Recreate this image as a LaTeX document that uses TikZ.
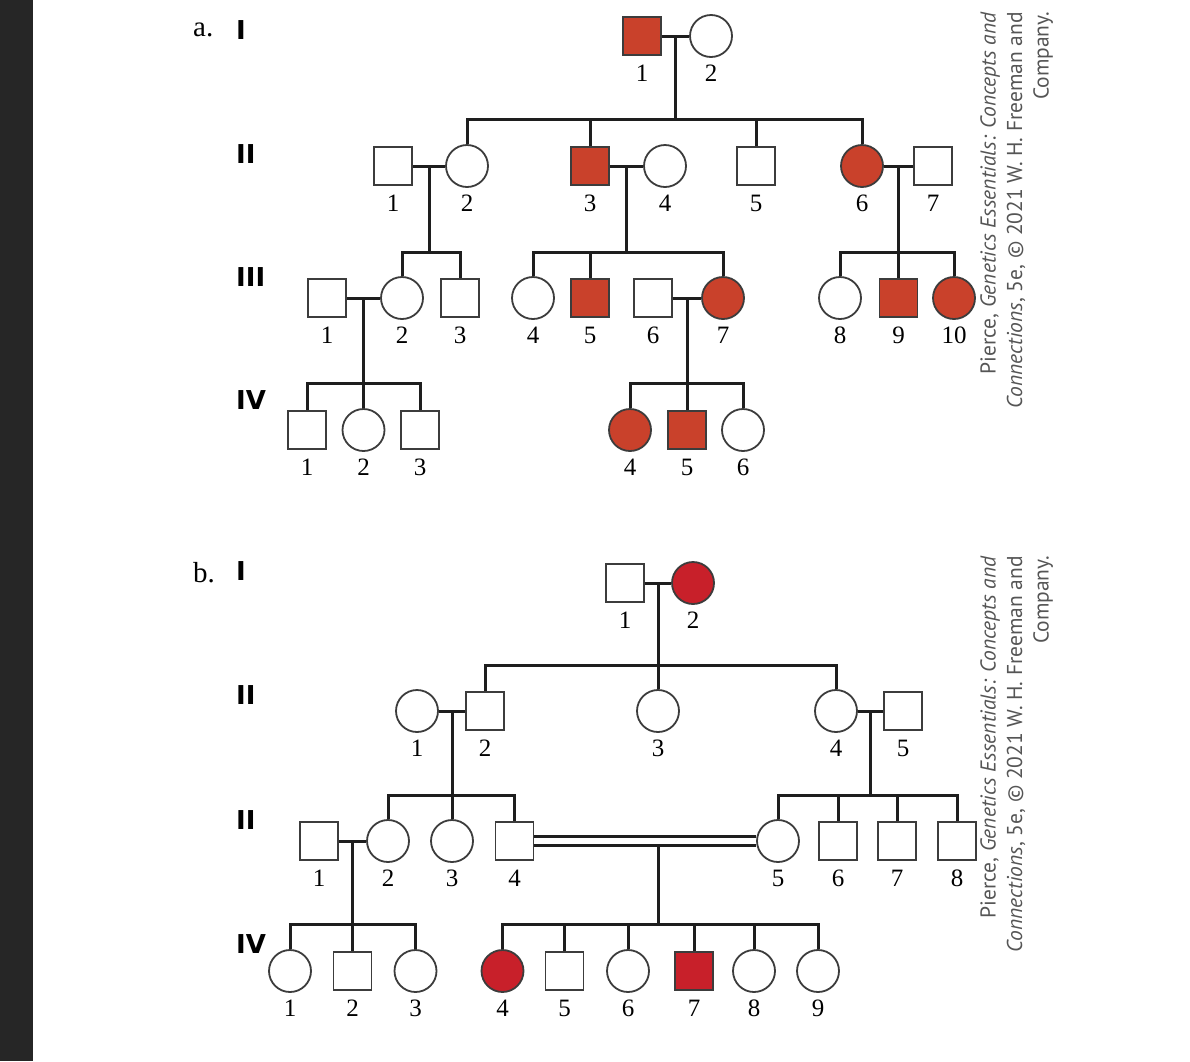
\documentclass[tikz,border=0pt]{standalone}
\usepackage{fontspec}
\setmainfont{Liberation Serif}
\newfontfamily\genfont{DejaVu Sans}
\newfontfamily\creditfont{PT Sans}
\usetikzlibrary{calc}

\definecolor{affa}{RGB}{201,65,43}
\definecolor{affb}{RGB}{200,32,42}
\definecolor{outline}{RGB}{60,60,60}
\definecolor{kinline}{RGB}{30,30,30}
\definecolor{creditgray}{RGB}{85,85,85}
\definecolor{sidebar}{RGB}{38,38,38}

\tikzset{
  male/.style={rectangle, draw=outline, line width=1.8pt, fill=white, minimum size=38pt, inner sep=0pt},
  female/.style={circle, draw=outline, line width=1.8pt, fill=white, minimum size=42pt, inner sep=0pt},
  affA/.style={fill=affa},
  affB/.style={fill=affb},
  every label/.style={font=\fontsize{25}{25}\selectfont, inner sep=0pt},
  label distance=7pt,
  sq/.style={label distance=9pt},
  gen/.style={font=\genfont\bfseries\fontsize{26}{26}\selectfont, inner sep=0pt, anchor=west},
  part/.style={font=\fontsize{29}{29}\selectfont, inner sep=0pt, anchor=west},
  kin/.style={draw=kinline, line width=3pt},
  credit/.style={font=\creditfont\fontsize{21.5}{26.5}\selectfont, text=creditgray, inner sep=0pt, rotate=90, anchor=north east, align=right}
}

\begin{document}
\begin{tikzpicture}[x=1pt, y=-1pt]
\useasboundingbox (0,0) rectangle (1190,1061);
\fill[sidebar] (0,0) rectangle (33,1061);

% part a
\node[part] (pa) at (193,30) {a.};
\node[gen] (gaI) at (236,30) {I};
\node[gen] (gaII) at (236,154) {II};
\node[gen] (gaIII) at (236,277) {III};
\node[gen] (gaIV) at (236,400) {IV};

\node[male, affA, label={[sq]below:1}] (aI1) at (642,36) {};
\node[female, label=below:2] (aI2) at (711,36) {};

\node[male, label={[sq]below:1}] (aII1) at (393,166) {};
\node[female, label=below:2] (aII2) at (467,166) {};
\node[male, affA, label={[sq]below:3}] (aII3) at (590,166) {};
\node[female, label=below:4] (aII4) at (665,166) {};
\node[male, label={[sq]below:5}] (aII5) at (756,166) {};
\node[female, affA, label=below:6] (aII6) at (862,166) {};
\node[male, label={[sq]below:7}] (aII7) at (933,166) {};

\node[male, label={[sq]below:1}] (aIII1) at (327,298) {};
\node[female, label=below:2] (aIII2) at (402,298) {};
\node[male, label={[sq]below:3}] (aIII3) at (460,298) {};
\node[female, label=below:4] (aIII4) at (533,298) {};
\node[male, affA, label={[sq]below:5}] (aIII5) at (590,298) {};
\node[male, label={[sq]below:6}] (aIII6) at (653,298) {};
\node[female, affA, label=below:7] (aIII7) at (723,298) {};
\node[female, label=below:8] (aIII8) at (840,298) {};
\node[male, affA, label={[sq]below:9}] (aIII9) at (898.5,298) {};
\node[female, affA, label=below:10] (aIII10) at (954,298) {};

\node[male, label={[sq]below:1}] (aIV1) at (307,430) {};
\node[female, label=below:2] (aIV2) at (363.5,430) {};
\node[male, label={[sq]below:3}] (aIV3) at (420,430) {};
\node[female, affA, label=below:4] (aIV4) at (630,430) {};
\node[male, affA, label={[sq]below:5}] (aIV5) at (687,430) {};
\node[female, label=below:6] (aIV6) at (743,430) {};

\coordinate (maI) at ($(aI1.east)!0.5!(aI2.west)$);
\coordinate (saI) at (maI |- 0,119);
\coordinate (maIIa) at ($(aII1.east)!0.5!(aII2.west)$);
\coordinate (saIIa) at (maIIa |- 0,252);
\coordinate (maIIb) at ($(aII3.east)!0.5!(aII4.west)$);
\coordinate (saIIb) at (maIIb |- 0,252);
\coordinate (maIIc) at ($(aII6.east)!0.5!(aII7.west)$);
\coordinate (saIIc) at (maIIc |- 0,252);
\coordinate (maIIIa) at ($(aIII1.east)!0.5!(aIII2.west)$);
\coordinate (saIIIa) at (maIIIa |- 0,383);
\coordinate (maIIIb) at ($(aIII6.east)!0.5!(aIII7.west)$);
\coordinate (saIIIb) at (maIIIb |- 0,383);

\draw[kin] (aI1.east) -- (aI2.west);
\draw[kin] (maI) -- (saI);
\draw[kin] (aII2.north) |- (saI) -| (aII6.north);
\draw[kin] (aII3.north) -- (aII3.north |- saI);
\draw[kin] (aII5.north) -- (aII5.north |- saI);

\draw[kin] (aII1.east) -- (aII2.west);
\draw[kin] (aII3.east) -- (aII4.west);
\draw[kin] (aII6.east) -- (aII7.west);
\draw[kin] (maIIa) -- (saIIa);
\draw[kin] (maIIb) -- (saIIb);
\draw[kin] (maIIc) -- (saIIc);
\draw[kin] (aIII2.north) |- (saIIa) -| (aIII3.north);
\draw[kin] (aIII4.north) |- (saIIb) -| (aIII7.north);
\draw[kin] (aIII5.north) -- (aIII5.north |- saIIb);
\draw[kin] (aIII8.north) |- (saIIc) -| (aIII10.north);
\draw[kin] (aIII9.north) -- (aIII9.north |- saIIc);

\draw[kin] (aIII1.east) -- (aIII2.west);
\draw[kin] (aIII6.east) -- (aIII7.west);
\draw[kin] (maIIIa) -- (saIIIa);
\draw[kin] (maIIIb) -- (saIIIb);
\draw[kin] (aIV1.north) |- (saIIIa) -| (aIV3.north);
\draw[kin] (aIV2.north) -- (aIV2.north |- saIIIa);
\draw[kin] (aIV4.north) |- (saIIIb) -| (aIV6.north);
\draw[kin] (aIV5.north) -- (aIV5.north |- saIIIb);

\node[credit] (credA) at (980,12) {Pierce, \textit{Genetics Essentials: Concepts and}\\\textit{Connections}, 5e, \textcopyright\ 2021 W. H. Freeman and\\Company.};

% part b
\node[part] (pb) at (193,573) {b.};
\node[gen] (gbI) at (236,571) {I};
\node[gen] (gbII) at (236,695) {II};
\node[gen] (gbIII) at (236,820) {II};
\node[gen] (gbIV) at (236,944) {IV};

\node[male, label={[sq]below:1}] (bI1) at (625,583) {};
\node[female, affB, label=below:2] (bI2) at (693,583) {};

\node[female, label=below:1] (bII1) at (417,711) {};
\node[male, label={[sq]below:2}] (bII2) at (485,711) {};
\node[female, label=below:3] (bII3) at (658,711) {};
\node[female, label=below:4] (bII4) at (836,711) {};
\node[male, label={[sq]below:5}] (bII5) at (903,711) {};

\node[male, label={[sq]below:1}] (bIII1) at (319,841) {};
\node[female, label=below:2] (bIII2) at (388,841) {};
\node[female, label=below:3] (bIII3) at (452,841) {};
\node[male, label={[sq]below:4}] (bIII4) at (514.5,841) {};
\node[female, label=below:5] (bIII5) at (778,841) {};
\node[male, label={[sq]below:6}] (bIII6) at (838,841) {};
\node[male, label={[sq]below:7}] (bIII7) at (897,841) {};
\node[male, label={[sq]below:8}] (bIII8) at (957,841) {};

\node[female, label=below:1] (bIV1) at (290,971) {};
\node[male, label={[sq]below:2}] (bIV2) at (352.5,971) {};
\node[female, label=below:3] (bIV3) at (415.5,971) {};
\node[female, affB, label=below:4] (bIV4) at (502.5,971) {};
\node[male, label={[sq]below:5}] (bIV5) at (564.5,971) {};
\node[female, label=below:6] (bIV6) at (628,971) {};
\node[male, affB, label={[sq]below:7}] (bIV7) at (694,971) {};
\node[female, label=below:8] (bIV8) at (754,971) {};
\node[female, label=below:9] (bIV9) at (818,971) {};

\coordinate (mbI) at ($(bI1.east)!0.5!(bI2.west)$);
\coordinate (sbI) at (mbI |- 0,665);
\coordinate (mbIIa) at ($(bII1.east)!0.5!(bII2.west)$);
\coordinate (sbIIa) at (mbIIa |- 0,795);
\coordinate (mbIIb) at ($(bII4.east)!0.5!(bII5.west)$);
\coordinate (sbIIb) at (mbIIb |- 0,795);
\coordinate (mbIIIa) at ($(bIII1.east)!0.5!(bIII2.west)$);
\coordinate (sbIIIa) at (mbIIIa |- 0,924);
\coordinate (mbIIIb) at (658,845);
\coordinate (sbIIIb) at (mbIIIb |- 0,924);

\draw[kin] (bI1.east) -- (bI2.west);
\draw[kin] (mbI) -- (sbI);
\draw[kin] (bII2.north) |- (sbI) -| (bII4.north);
\draw[kin] (bII3.north) -- (bII3.north |- sbI);

\draw[kin] (bII1.east) -- (bII2.west);
\draw[kin] (bII4.east) -- (bII5.west);
\draw[kin] (mbIIa) -- (sbIIa);
\draw[kin] (mbIIb) -- (sbIIb);
\draw[kin] (bIII2.north) |- (sbIIa) -| (bIII4.north);
\draw[kin] (bIII3.north) -- (bIII3.north |- sbIIa);
\draw[kin] (bIII5.north) |- (sbIIb) -| (bIII8.north);
\draw[kin] (bIII6.north) -- (bIII6.north |- sbIIb);
\draw[kin] (bIII7.north) -- (bIII7.north |- sbIIb);

\draw[kin] (bIII1.east) -- (bIII2.west);
\draw[kin, double=white, double distance=6pt] (bIII4.east) -- (bIII5.west);
\draw[kin] (mbIIIa) -- (sbIIIa);
\draw[kin] (mbIIIb) -- (sbIIIb);
\draw[kin] (bIV1.north) |- (sbIIIa) -| (bIV3.north);
\draw[kin] (bIV2.north) -- (bIV2.north |- sbIIIa);
\draw[kin] (bIV4.north) |- (sbIIIb) -| (bIV9.north);
\foreach \k in {bIV5, bIV6, bIV7, bIV8}
  \draw[kin] (\k.north) -- (\k.north |- sbIIIb);

\node[credit] (credB) at (980,556) {Pierce, \textit{Genetics Essentials: Concepts and}\\\textit{Connections}, 5e, \textcopyright\ 2021 W. H. Freeman and\\Company.};
\end{tikzpicture}
\end{document}
